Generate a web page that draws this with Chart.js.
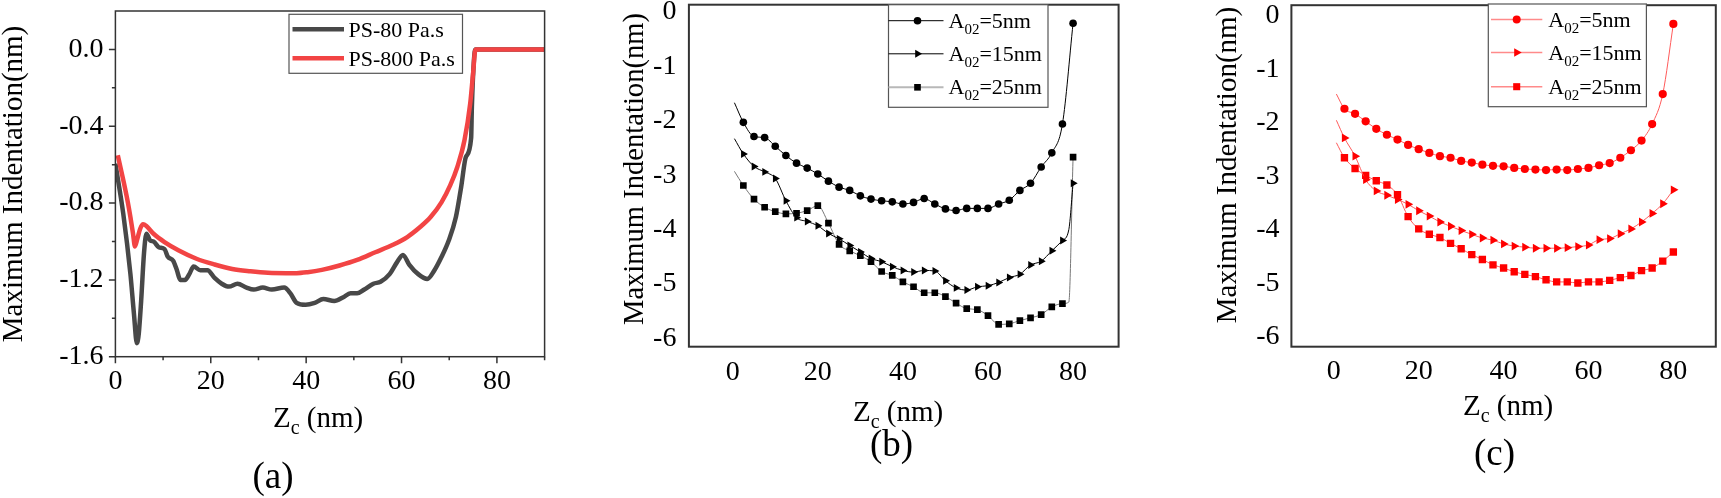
<!DOCTYPE html>
<html>
<head>
<meta charset="utf-8">
<script src="https://cdn.jsdelivr.net/npm/chart.js@4.4.1/dist/chart.umd.min.js"></script>
<style>
  body { margin: 0; background: #fff; width: 1721px; height: 498px; overflow: hidden; position: relative; }
  canvas { position: absolute; top: 0; }
</style>
</head>
<body>
<canvas id="ca" width="580" height="498" style="left:0"></canvas>
<canvas id="cb" width="580" height="498" style="left:580px"></canvas>
<canvas id="cc" width="561" height="498" style="left:1160px"></canvas>
<script>
// ---- panel (a) : PS-80 / PS-800 ----
const aZc80 = [0, 1.65, 3.15, 3.9, 4.5, 4.9, 5.4, 6.0, 6.5, 7.3, 8.0, 9.1, 10.3, 11.0, 12.1, 12.9, 13.6, 14.6, 15.5, 16.4, 17.8, 19.3, 20.8, 22.3, 23.8, 25.6, 27.5, 29.0, 30.9, 32.8, 35.4, 36.7, 38.0, 39.9, 41.8, 43.6, 45.9, 47.8, 49.3, 50.7, 52.2, 54.1, 55.6, 57.5, 59.0, 60.3, 61.6, 63.5, 65.4, 66.9, 68.4, 69.9, 71.4, 72.5, 73.5, 74.6, 74.75, 75.2, 75.5, 90];
const aInd80 = [-0.595, -0.856, -1.17, -1.38, -1.53, -1.48, -1.31, -1.06, -0.96, -0.995, -1.0, -1.03, -1.04, -1.08, -1.10, -1.15, -1.20, -1.20, -1.17, -1.13, -1.15, -1.15, -1.19, -1.22, -1.235, -1.22, -1.24, -1.25, -1.24, -1.25, -1.24, -1.27, -1.32, -1.33, -1.32, -1.30, -1.31, -1.29, -1.27, -1.27, -1.25, -1.22, -1.21, -1.17, -1.11, -1.07, -1.12, -1.17, -1.195, -1.15, -1.08, -0.995, -0.873, -0.717, -0.56, -0.46, -0.30, -0.05, 0, 0];
const aZc800 = [0.5, 1.65, 2.6, 3.15, 3.7, 4.1, 4.6, 5.2, 5.8, 6.5, 8.0, 10.3, 13.3, 17.0, 20.8, 24.5, 28.3, 32.0, 35.8, 38.0, 40.3, 43.3, 47.0, 50.7, 54.5, 58.2, 61.2, 63.9, 66.1, 68.4, 70.2, 71.7, 73.2, 74.4, 75.0, 75.5, 90];
const aInd800 = [-0.551, -0.68, -0.795, -0.873, -0.96, -1.026, -0.986, -0.934, -0.911, -0.92, -0.96, -1.003, -1.047, -1.09, -1.12, -1.143, -1.155, -1.163, -1.165, -1.165, -1.16, -1.148, -1.125, -1.096, -1.056, -1.017, -0.977, -0.925, -0.873, -0.795, -0.708, -0.612, -0.473, -0.282, -0.125, 0, 0];
const aXTicks = [0, 20, 40, 60, 80];
const aXMinor = [10, 30, 50, 70, 90];
const aYTicks = [-1.6, -1.2, -0.8, -0.4, 0];
const aYMinor = [-1.4, -1.0, -0.6, -0.2];

// ---- panels (b) and (c) : marker positions every 2.5 nm ----
const bcZc = [2.5, 5, 7.5, 10, 12.5, 15, 17.5, 20, 22.5, 25, 27.5, 30, 32.5, 35, 37.5, 40, 42.5, 45, 47.5, 50, 52.5, 55, 57.5, 60, 62.5, 65, 67.5, 70, 72.5, 75, 77.5, 80];

const b5 = [-2.03, -2.29, -2.31, -2.47, -2.64, -2.78, -2.87, -2.98, -3.11, -3.22, -3.28, -3.38, -3.44, -3.47, -3.49, -3.53, -3.50, -3.43, -3.53, -3.62, -3.65, -3.61, -3.61, -3.61, -3.53, -3.46, -3.28, -3.15, -2.85, -2.59, -2.06, -0.21];
const b15 = [-2.61, -2.84, -2.94, -3.06, -3.47, -3.78, -3.85, -3.93, -4.07, -4.17, -4.29, -4.41, -4.53, -4.59, -4.68, -4.75, -4.78, -4.75, -4.76, -4.94, -5.07, -5.11, -5.05, -5.03, -4.97, -4.88, -4.82, -4.65, -4.58, -4.39, -4.20, -3.15];
const b25 = [-3.19, -3.44, -3.59, -3.67, -3.71, -3.70, -3.65, -3.56, -3.88, -4.27, -4.39, -4.48, -4.59, -4.77, -4.84, -4.96, -5.05, -5.16, -5.16, -5.23, -5.35, -5.45, -5.47, -5.58, -5.74, -5.73, -5.67, -5.62, -5.56, -5.42, -5.36, -2.67];
// unmarked curve points (start of line, kinks)
const b5ExtraZc = [0.4], b5ExtraInd = [-1.67];
const b15ExtraZc = [0.4, 79], b15ExtraInd = [-2.33, -4.0];
const b25ExtraZc = [0.4, 79], b25ExtraInd = [-2.93, -5.33];

const c5 = [-1.735, -1.83, -1.97, -2.11, -2.22, -2.31, -2.41, -2.49, -2.56, -2.62, -2.65, -2.71, -2.74, -2.78, -2.80, -2.81, -2.84, -2.86, -2.87, -2.88, -2.87, -2.88, -2.86, -2.84, -2.79, -2.75, -2.65, -2.51, -2.33, -2.02, -1.46, -0.15];
const c15 = [-2.28, -2.62, -3.06, -3.27, -3.35, -3.43, -3.52, -3.64, -3.74, -3.85, -3.93, -4.01, -4.08, -4.15, -4.19, -4.26, -4.30, -4.32, -4.34, -4.34, -4.34, -4.33, -4.31, -4.28, -4.18, -4.16, -4.07, -3.98, -3.85, -3.69, -3.51, -3.25];
const c25 = [-2.65, -2.85, -2.98, -3.08, -3.16, -3.34, -3.75, -3.98, -4.08, -4.14, -4.25, -4.35, -4.46, -4.55, -4.65, -4.71, -4.78, -4.83, -4.87, -4.93, -4.97, -4.97, -4.99, -4.97, -4.97, -4.94, -4.89, -4.85, -4.76, -4.71, -4.58, -4.41];
const c5ExtraZc = [0.6], c5ExtraInd = [-1.46];
const c15ExtraZc = [0.6], c15ExtraInd = [-1.95];
const c25ExtraZc = [0.6], c25ExtraInd = [-2.37];

const bcXTicks = [0, 20, 40, 60, 80];
const bcYTicks = [-6, -5, -4, -3, -2, -1, 0];

const FONT = "'Liberation Serif', 'Times New Roman', serif";
Chart.defaults.font.family = FONT;
Chart.defaults.color = '#000';

function pts(xs, ys) {
    return xs.map((x, i) => ({ x, y: ys[i], m: false }));
}
function marked(xs, ys, exXs, exYs) {
    const p = xs.map((x, i) => ({ x, y: ys[i], m: true })).concat(pts(exXs, exYs));
    return p.sort((a, b) => a.x - b.x);
}

// draw text made of parts (for subscripts)
function richText(ctx, x, y, parts) {
    parts.forEach(p => {
        ctx.font = p.size + 'px ' + FONT;
        ctx.fillText(p.t, x, y + (p.dy || 0));
        x += ctx.measureText(p.t).width;
    });
}

const decor = {
    id: 'decor',
    afterDraw(chart, args, o) {
        const { ctx, chartArea: ca, scales: { x, y } } = chart;
        const ox = o.ox;
        ctx.save();
        ctx.strokeStyle = o.frameColor;
        ctx.lineWidth = o.frameWidth;
        ctx.strokeRect(ca.left, ca.top, ca.right - ca.left, ca.bottom - ca.top);

        if (o.ticks) {
            const t = o.ticks;
            ctx.lineWidth = 1.5;
            ctx.beginPath();
            t.xMajor.forEach(v => { const px = x.getPixelForValue(v); ctx.moveTo(px, ca.bottom); ctx.lineTo(px, ca.bottom + t.major); });
            t.xMinor.forEach(v => { const px = x.getPixelForValue(v); ctx.moveTo(px, ca.bottom); ctx.lineTo(px, ca.bottom + t.minor); });
            t.yMajor.forEach(v => { const py = y.getPixelForValue(v); ctx.moveTo(ca.left, py); ctx.lineTo(ca.left - t.major, py); });
            t.yMinor.forEach(v => { const py = y.getPixelForValue(v); ctx.moveTo(ca.left, py); ctx.lineTo(ca.left - t.minor, py); });
            ctx.stroke();
        }

        // tick labels, placed from the scales' own ticks
        ctx.fillStyle = '#000';
        ctx.font = '28px ' + FONT;
        ctx.textBaseline = 'middle';
        ctx.textAlign = 'center';
        x.ticks.forEach(t => ctx.fillText(String(t.value), x.getPixelForValue(t.value), o.xLabelY));
        ctx.textAlign = 'right';
        y.ticks.forEach(t => ctx.fillText(o.yFmt(t.value), o.yLabelX - ox, y.getPixelForValue(t.value)));

        // y title
        ctx.save();
        ctx.translate(o.yTitle.x - ox, o.yTitle.y);
        ctx.rotate(-Math.PI / 2);
        ctx.font = o.yTitle.size + 'px ' + FONT;
        ctx.textAlign = 'center';
        ctx.textBaseline = 'middle';
        ctx.fillText('Maximum Indentation(nm)', 0, 0);
        ctx.restore();
        // x title Zc (nm)
        ctx.textAlign = 'left';
        ctx.textBaseline = 'alphabetic';
        richText(ctx, o.xTitle.x - ox, o.xTitle.y, [
            { t: 'Z', size: 29 }, { t: 'c', size: 20, dy: 7 }, { t: ' (nm)', size: 29 }
        ]);
        // panel label
        ctx.font = '37px ' + FONT;
        ctx.textAlign = 'center';
        ctx.fillText(o.label.t, o.label.x - ox, o.label.y);

        // legend
        const lg = o.legend;
        ctx.fillStyle = '#fff';
        ctx.fillRect(lg.box[0] - ox, lg.box[1], lg.box[2] - lg.box[0], lg.box[3] - lg.box[1]);
        ctx.strokeStyle = '#555';
        ctx.lineWidth = 1.2;
        ctx.strokeRect(lg.box[0] - ox, lg.box[1], lg.box[2] - lg.box[0], lg.box[3] - lg.box[1]);
        lg.items.forEach((it, i) => {
            const ry = lg.rows[i];
            ctx.strokeStyle = it.lineColor;
            ctx.lineWidth = it.lineWidth;
            ctx.beginPath();
            ctx.moveTo(lg.line[0] - ox, ry);
            ctx.lineTo(lg.line[1] - ox, ry);
            ctx.stroke();
            if (it.pointStyle) {
                ctx.fillStyle = it.pointColor;
                Chart.helpers.drawPoint(ctx, { pointStyle: it.pointStyle, radius: it.radius, rotation: it.rotation || 0, borderWidth: 0 }, lg.marker - ox, ry);
            }
            ctx.fillStyle = '#000';
            ctx.textAlign = 'left';
            ctx.textBaseline = 'alphabetic';
            richText(ctx, lg.text - ox, ry + lg.base, it.parts);
        });
        ctx.restore();
    }
};

// fixed axis boxes so the plot area lands where the reference has it
function axisFit(vertical, size) {
    return s => {
        if (vertical) s.width = size; else s.height = size;
        s.paddingLeft = 0; s.paddingRight = 0; s.paddingTop = 0; s.paddingBottom = 0;
    };
}

function makeChart(id, datasets, sc, dec, area) {
    const el = document.getElementById(id);
    return new Chart(el, {
        type: 'line',
        data: { datasets },
        plugins: [decor],
        options: {
            responsive: false,
            animation: false,
            devicePixelRatio: 1,
            events: [],
            layout: { padding: { left: 0, bottom: 0, top: area.top, right: el.width - area.right } },
            plugins: { legend: { display: false }, tooltip: { enabled: false }, decor: dec },
            scales: {
                x: {
                    type: 'linear', min: sc.xMin, max: sc.xMax,
                    grid: { display: false, drawTicks: false }, border: { display: false },
                    afterBuildTicks: s => { s.ticks = sc.xTicks.map(v => ({ value: v })); },
                    afterFit: axisFit(false, el.height - area.bottom),
                    ticks: { display: false }
                },
                y: {
                    type: 'linear', min: sc.yMin, max: sc.yMax,
                    grid: { display: false, drawTicks: false }, border: { display: false },
                    afterBuildTicks: s => { s.ticks = sc.yTicks.map(v => ({ value: v })); },
                    afterFit: axisFit(true, area.left),
                    ticks: { display: false }
                }
            }
        }
    });
}

// ---------- (a) ----------
makeChart('ca', [
    { data: pts(aZc80, aInd80), borderColor: '#484848', borderWidth: 4.5, pointRadius: 0,
      cubicInterpolationMode: 'monotone', borderJoinStyle: 'round', order: 2 },
    { data: pts(aZc800, aInd800), borderColor: '#f24444', borderWidth: 4.5, pointRadius: 0,
      cubicInterpolationMode: 'monotone', borderJoinStyle: 'round', order: 1 }
], { xMin: 0, xMax: 90, yMin: -1.6, yMax: 0.2, xTicks: aXTicks, yTicks: aYTicks },
{
    ox: 0, frameColor: '#333', frameWidth: 1.5,
    ticks: { major: 6.5, minor: 3.5, xMajor: aXTicks, xMinor: aXMinor, yMajor: aYTicks, yMinor: aYMinor },
    xLabelY: 381.7, yLabelX: 103.6, yFmt: v => v.toFixed(1),
    yTitle: { x: 14, y: 184, size: 29 },
    xTitle: { x: 273, y: 427 },
    label: { t: '(a)', x: 273, y: 488 },
    legend: {
        box: [289, 14.3, 462.5, 73.3], rows: [29.3, 58.3], line: [292.5, 344], marker: 318, text: 348.5, base: 8,
        items: [
            { lineColor: '#484848', lineWidth: 4.5, parts: [{ t: 'PS-80 Pa.s', size: 22 }] },
            { lineColor: '#f24444', lineWidth: 4.5, parts: [{ t: 'PS-800 Pa.s', size: 22 }] }
        ]
    }
}, { left: 115.4, right: 544.6, top: 11, bottom: 356.7 });

function a02(n) {
    return [{ t: 'A', size: 22 }, { t: '02', size: 15, dy: 6 }, { t: '=' + n + 'nm', size: 22 }];
}

function markerSet(data, line, fill, style, r, rot) {
    return {
        data, borderColor: line, borderWidth: 1, cubicInterpolationMode: 'monotone',
        pointStyle: style, pointRotation: rot || 0,
        pointRadius: c => (c.raw && c.raw.m ? r : 0),
        pointBackgroundColor: fill, pointBorderWidth: 0
    };
}

// ---------- (b) ----------
makeChart('cb', [
    markerSet(marked(bcZc, b5, b5ExtraZc, b5ExtraInd), '#000', '#000', 'circle', 3.8),
    markerSet(marked(bcZc, b15, b15ExtraZc, b15ExtraInd), '#000', '#000', 'triangle', 4.6, 90),
    markerSet(marked(bcZc, b25, b25ExtraZc, b25ExtraInd), '#777', '#000', 'rect', 4.7)
], { xMin: -10.3, xMax: 90.7, yMin: -6.15, yMax: 0.13, xTicks: bcXTicks, yTicks: bcYTicks },
{
    ox: 580, frameColor: '#333', frameWidth: 2,
    xLabelY: 372.5, yLabelX: 676.4, yFmt: v => String(v),
    yTitle: { x: 635.5, y: 169, size: 28.6 },
    xTitle: { x: 853, y: 421 },
    label: { t: '(b)', x: 891.5, y: 456 },
    legend: {
        box: [888.5, 4.7, 1048, 107.3], rows: [20.7, 53.8, 87.3], line: [888.5, 943.5], marker: 917.5, text: 948.5, base: 7,
        items: [
            { lineColor: '#000', lineWidth: 1, pointStyle: 'circle', pointColor: '#000', radius: 3.8, parts: a02(5) },
            { lineColor: '#000', lineWidth: 1, pointStyle: 'triangle', rotation: 90, pointColor: '#000', radius: 4.6, parts: a02(15) },
            { lineColor: '#b8b8b8', lineWidth: 2, pointStyle: 'rect', pointColor: '#000', radius: 4.7, parts: a02(25) }
        ]
    }
}, { left: 108.9, right: 538.6, top: 1, bottom: 346.7 });

// ---------- (c) ----------
makeChart('cc', [
    markerSet(marked(bcZc, c5, c5ExtraZc, c5ExtraInd), '#ff5a5a', '#ff0000', 'circle', 4.1),
    markerSet(marked(bcZc, c15, c15ExtraZc, c15ExtraInd), '#ff5a5a', '#ff0000', 'triangle', 5.1, 90),
    markerSet(marked(bcZc, c25, c25ExtraZc, c25ExtraInd), '#ff5a5a', '#ff0000', 'rect', 5.2)
], { xMin: -10, xMax: 90, yMin: -6.18, yMax: 0.2, xTicks: bcXTicks, yTicks: bcYTicks },
{
    ox: 1160, frameColor: '#333', frameWidth: 2,
    xLabelY: 372, yLabelX: 1279.6, yFmt: v => String(v),
    yTitle: { x: 1228, y: 165, size: 29 },
    xTitle: { x: 1463, y: 415 },
    label: { t: '(c)', x: 1494.5, y: 465 },
    legend: {
        box: [1488.3, 4, 1646.4, 106.7], rows: [19.5, 52.5, 86.7], line: [1491, 1542.3], marker: 1516.7, text: 1548.3, base: 7,
        items: [
            { lineColor: '#ff8a8a', lineWidth: 1.5, pointStyle: 'circle', pointColor: '#ff0000', radius: 4, parts: a02(5) },
            { lineColor: '#ff8a8a', lineWidth: 1.5, pointStyle: 'triangle', rotation: 90, pointColor: '#ff0000', radius: 5, parts: a02(15) },
            { lineColor: '#ff8a8a', lineWidth: 1.5, pointStyle: 'rect', pointColor: '#ff0000', radius: 5, parts: a02(25) }
        ]
    }
}, { left: 131.4, right: 559, top: 1, bottom: 346.7 });
</script>
</body>
</html>
